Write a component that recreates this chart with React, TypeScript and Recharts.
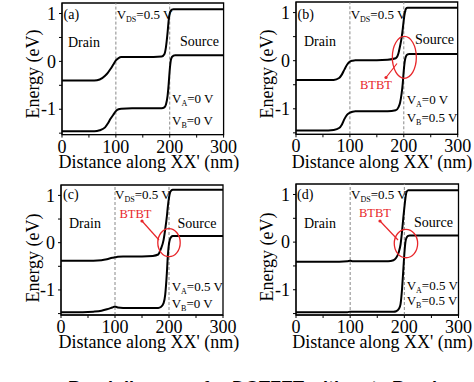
import React from 'react';
import { LineChart, Line, XAxis, YAxis, ReferenceLine, ReferenceDot, ReferenceArea } from 'recharts';

// ---- data (distance in nm, energy in eV) ----
const xA = [0, 20, 40, 60, 70, 80, 85, 90, 95, 100, 105, 110, 130, 150, 170, 185, 190, 193, 196, 198, 200, 202, 204, 207, 210, 230, 260, 300];
const ecA = [-0.4, -0.4, -0.4, -0.4, -0.38, -0.3, -0.24, -0.16, -0.07, 0.02, 0.07, 0.09, 0.09, 0.09, 0.09, 0.1, 0.15, 0.3, 0.6, 0.85, 1.0, 1.06, 1.08, 1.09, 1.09, 1.09, 1.09, 1.09];
const evA = [-1.46, -1.46, -1.46, -1.46, -1.44, -1.38, -1.3, -1.2, -1.12, -1.04, -1.0, -0.99, -0.98, -0.98, -0.98, -0.98, -0.96, -0.9, -0.72, -0.48, -0.18, 0.02, 0.09, 0.12, 0.13, 0.13, 0.13, 0.13];

const xB = [0, 20, 40, 60, 70, 80, 85, 90, 95, 100, 105, 110, 130, 150, 170, 185, 190, 193, 196, 198, 200, 202, 204, 207, 210, 230, 260, 300];
const ecB = [-0.4, -0.4, -0.4, -0.4, -0.4, -0.36, -0.29, -0.18, -0.08, -0.02, 0.0, 0.01, 0.01, 0.01, 0.02, 0.05, 0.15, 0.3, 0.48, 0.65, 0.85, 1.0, 1.08, 1.1, 1.1, 1.1, 1.1, 1.1];
const evB = [-1.45, -1.45, -1.45, -1.45, -1.44, -1.4, -1.33, -1.21, -1.12, -1.08, -1.06, -1.05, -1.05, -1.05, -1.05, -1.03, -0.97, -0.88, -0.68, -0.48, -0.2, 0.0, 0.09, 0.13, 0.14, 0.14, 0.14, 0.14];

const xC = [0, 20, 40, 60, 75, 85, 95, 100, 105, 115, 130, 150, 170, 180, 185, 190, 193, 196, 198, 200, 202, 204, 207, 210, 230, 260, 300];
const ecC = [-0.38, -0.38, -0.38, -0.38, -0.37, -0.35, -0.32, -0.31, -0.3, -0.29, -0.29, -0.29, -0.28, -0.25, -0.13, 0.06, 0.28, 0.55, 0.78, 0.95, 1.06, 1.1, 1.12, 1.12, 1.12, 1.12, 1.12];
const evC = [-1.47, -1.47, -1.47, -1.46, -1.44, -1.41, -1.37, -1.35, -1.37, -1.38, -1.38, -1.38, -1.38, -1.38, -1.36, -1.28, -1.1, -0.65, -0.25, -0.02, 0.08, 0.12, 0.14, 0.14, 0.14, 0.14, 0.14];

const xD = [0, 20, 40, 60, 80, 95, 100, 105, 120, 150, 170, 180, 185, 190, 193, 196, 198, 200, 202, 204, 207, 210, 230, 260, 300];
const ecD = [-0.41, -0.41, -0.41, -0.41, -0.41, -0.4, -0.39, -0.4, -0.4, -0.4, -0.4, -0.38, -0.33, -0.2, -0.05, 0.25, 0.5, 0.72, 0.92, 1.05, 1.09, 1.09, 1.09, 1.09, 1.09];
const evD = [-1.47, -1.47, -1.47, -1.47, -1.47, -1.47, -1.46, -1.46, -1.46, -1.46, -1.46, -1.46, -1.45, -1.4, -1.3, -0.95, -0.6, -0.25, 0.0, 0.09, 0.13, 0.14, 0.14, 0.14, 0.14];

const xTicks = [0, 50, 100, 150, 200, 250, 300];
const yTicks = [-1.5, -1, -0.5, 0, 0.5, 1];
const Y_MIN = -1.53;
const Y_MAX = 1.22;
const regionLines = [100, 200];

const SERIF = "'Liberation Serif', 'Times New Roman', serif";

type Ell = { x: number; y: number; rx: number; ry: number };

function XTick(p: any) {
  const v = p.payload?.value;
  if (v % 100 !== 0) return <g />;
  return (
    <text x={p.x} y={p.y} dy="0.72em" textAnchor="middle" fontSize={18} fontFamily={SERIF} fill="#000">
      {String(v)}
    </text>
  );
}

function YTick(p: any) {
  const v = p.payload?.value;
  if (!Number.isInteger(v)) return <g />;
  return (
    <text x={p.x} y={p.y} dy="0.34em" textAnchor="end" fontSize={18} fontFamily={SERIF} fill="#000">
      {String(v)}
    </text>
  );
}

function Panel(props: { left: number; top: number; w: number; h: number; xs: number[]; ec: number[]; ev: number[]; ell?: Ell }) {
  const { left, top, w, h, xs, ec, ev, ell } = props;
  const data = xs.map((x, i) => ({ x, ec: ec[i], ev: ev[i] }));
  const mT = 4, mR = 24, yW = 60, xH = 45;
  return (
    <div style={{ position: 'absolute', left: left - yW, top: top - mT }}>
      <LineChart width={w + yW + mR} height={h + mT + xH} data={data} margin={{ top: mT, right: mR, bottom: 0, left: 0 }}>
        <XAxis
          dataKey="x" type="number" domain={[0, 300]} ticks={xTicks} allowDataOverflow
          tick={<XTick />} tickSize={3} tickMargin={2} height={xH}
          axisLine={{ stroke: '#000' }} tickLine={{ stroke: '#000' }} interval={0}
        />
        <YAxis
          type="number" domain={[Y_MIN, Y_MAX]} ticks={yTicks} allowDataOverflow
          tick={<YTick />} tickSize={3} tickMargin={3} width={yW}
          axisLine={{ stroke: '#000' }} tickLine={{ stroke: '#000' }} interval={0}
        />
        {regionLines.map((v) => (
          <ReferenceLine key={v} x={v} stroke="#888" strokeDasharray="3 2" strokeWidth={1} />
        ))}
        <Line dataKey="ec" type="monotone" stroke="#000" strokeWidth={2} dot={false} isAnimationActive={false} />
        <Line dataKey="ev" type="monotone" stroke="#000" strokeWidth={2} dot={false} isAnimationActive={false} />
        {ell && (
          <ReferenceDot
            x={ell.x} y={ell.y} ifOverflow="visible"
            shape={(p: any) => <ellipse cx={p.cx} cy={p.cy} rx={ell.rx} ry={ell.ry} fill="none" stroke="#e8262a" strokeWidth={1.3} />}
          />
        )}
        <ReferenceArea x1={0} x2={300} y1={Y_MIN} y2={Y_MAX} ifOverflow="visible" fill="none" stroke="#000" strokeWidth={1.3} />
      </LineChart>
    </div>
  );
}

function V(props: { x: number; y: number; sub: string; rest: string }) {
  return (
    <text x={props.x} y={props.y} fontSize={13} fontFamily={SERIF} fill="#000">
      V<tspan fontSize={8} dy={3}>{props.sub}</tspan>
      <tspan dy={-3}>{props.rest}</tspan>
    </text>
  );
}

function T(props: { x: number; y: number; s: string; size?: number; fill?: string; anchor?: string; rot?: boolean }) {
  return (
    <text
      x={props.x} y={props.y} fontSize={props.size ?? 14} fontFamily={SERIF} fill={props.fill ?? '#000'}
      textAnchor={props.anchor as any}
      transform={props.rot ? `rotate(-90 ${props.x} ${props.y})` : undefined}
    >
      {props.s}
    </text>
  );
}

function Arrow(props: { x1: number; y1: number; x2: number; y2: number }) {
  return (
    <g>
      <line x1={props.x1} y1={props.y1} x2={props.x2} y2={props.y2} stroke="#e8262a" strokeWidth={1.2} />
      <circle cx={props.x1} cy={props.y1} r={1.6} fill="#e8262a" />
    </g>
  );
}

export default function App() {
  return (
    <div style={{ position: 'absolute', left: 0, top: 0, width: 474, height: 382, overflow: 'hidden', background: '#fff', fontFamily: SERIF }}>
      <Panel left={61.7} top={2.7} w={161.6} h={131.6} xs={xA} ec={ecA} ev={evA} />
      <Panel left={296.3} top={2} w={161.7} h={132.3} xs={xB} ec={ecB} ev={evB} ell={{ x: 201, y: 0.07, rx: 12, ry: 21 }} />
      <Panel left={61} top={185} w={162} h={130} xs={xC} ec={ecC} ev={evC} ell={{ x: 200, y: 0.0, rx: 11.2, ry: 14 }} />
      <Panel left={295.5} top={184} w={162.5} h={131} xs={xD} ec={ecD} ev={evD} ell={{ x: 203, y: -0.03, rx: 11.7, ry: 14.2 }} />
      <svg width={474} height={382} style={{ position: 'absolute', left: 0, top: 0, pointerEvents: 'none' }}>
        {/* panel a */}
        <T x={63.5} y={19} s="(a)" />
        <V x={116.7} y={19} sub="DS" rest="=0.5 V" />
        <T x={68} y={47} s="Drain" />
        <T x={180} y={46} s="Source" />
        <V x={172} y={103} sub="A" rest="=0 V" />
        <V x={172} y={125} sub="B" rest="=0 V" />
        <T x={38.5} y={74} s="Energy (eV)" size={18} anchor="middle" rot />
        <T x={148.8} y={168} s="Distance along XX' (nm)" size={18} anchor="middle" />
        {/* panel b */}
        <T x={297.5} y={19} s="(b)" />
        <V x={350.7} y={19} sub="DS" rest="=0.5 V" />
        <T x={304} y={46} s="Drain" />
        <T x={415} y={44} s="Source" />
        <T x={360} y={88.5} s="BTBT" size={12.5} fill="#e8262a" />
        <Arrow x1={386} y1={77.5} x2={397} y2={63.5} />
        <V x={406.7} y={103.5} sub="A" rest="=0 V" />
        <V x={406.7} y={122} sub="B" rest="=0.5 V" />
        <T x={273} y={74} s="Energy (eV)" size={18} anchor="middle" rot />
        <T x={382} y={168} s="Distance along XX' (nm)" size={18} anchor="middle" />
        {/* panel c */}
        <T x={63} y={198.5} s="(c)" />
        <V x={115} y={199} sub="DS" rest="=0.5 V" />
        <T x={119.5} y={218} s="BTBT" size={12.5} fill="#e8262a" />
        <Arrow x1={142} y1={221} x2={159} y2={240} />
        <T x={69} y={228} s="Drain" />
        <T x={177.5} y={228} s="Source" />
        <V x={171.7} y={291} sub="A" rest="=0.5 V" />
        <V x={171.7} y={308} sub="B" rest="=0 V" />
        <T x={38.5} y={258} s="Energy (eV)" size={18} anchor="middle" rot />
        <T x={148.8} y={348} s="Distance along XX' (nm)" size={18} anchor="middle" />
        {/* panel d */}
        <T x={297} y={198.5} s="(d)" />
        <V x={351} y={199} sub="DS" rest="=0.5 V" />
        <T x={359} y={216.7} s="BTBT" size={12.5} fill="#e8262a" />
        <Arrow x1={380} y1={221} x2={398} y2={240} />
        <T x={304} y={228} s="Drain" />
        <T x={414} y={227} s="Source" />
        <V x={406.7} y={290} sub="A" rest="=0.5 V" />
        <V x={406.7} y={305} sub="B" rest="=0.5 V" />
        <T x={273} y={257} s="Energy (eV)" size={18} anchor="middle" rot />
        <T x={382.5} y={348} s="Distance along XX' (nm)" size={18} anchor="middle" />
        {/* caption (cut off at the bottom edge) */}
        <text x={68} y={394} fontSize={18} fontWeight="bold" fontFamily="'Liberation Sans', Arial, sans-serif" fill="#000">
          Band diagrams for DGTFET with gate Band
        </text>
      </svg>
    </div>
  );
}
